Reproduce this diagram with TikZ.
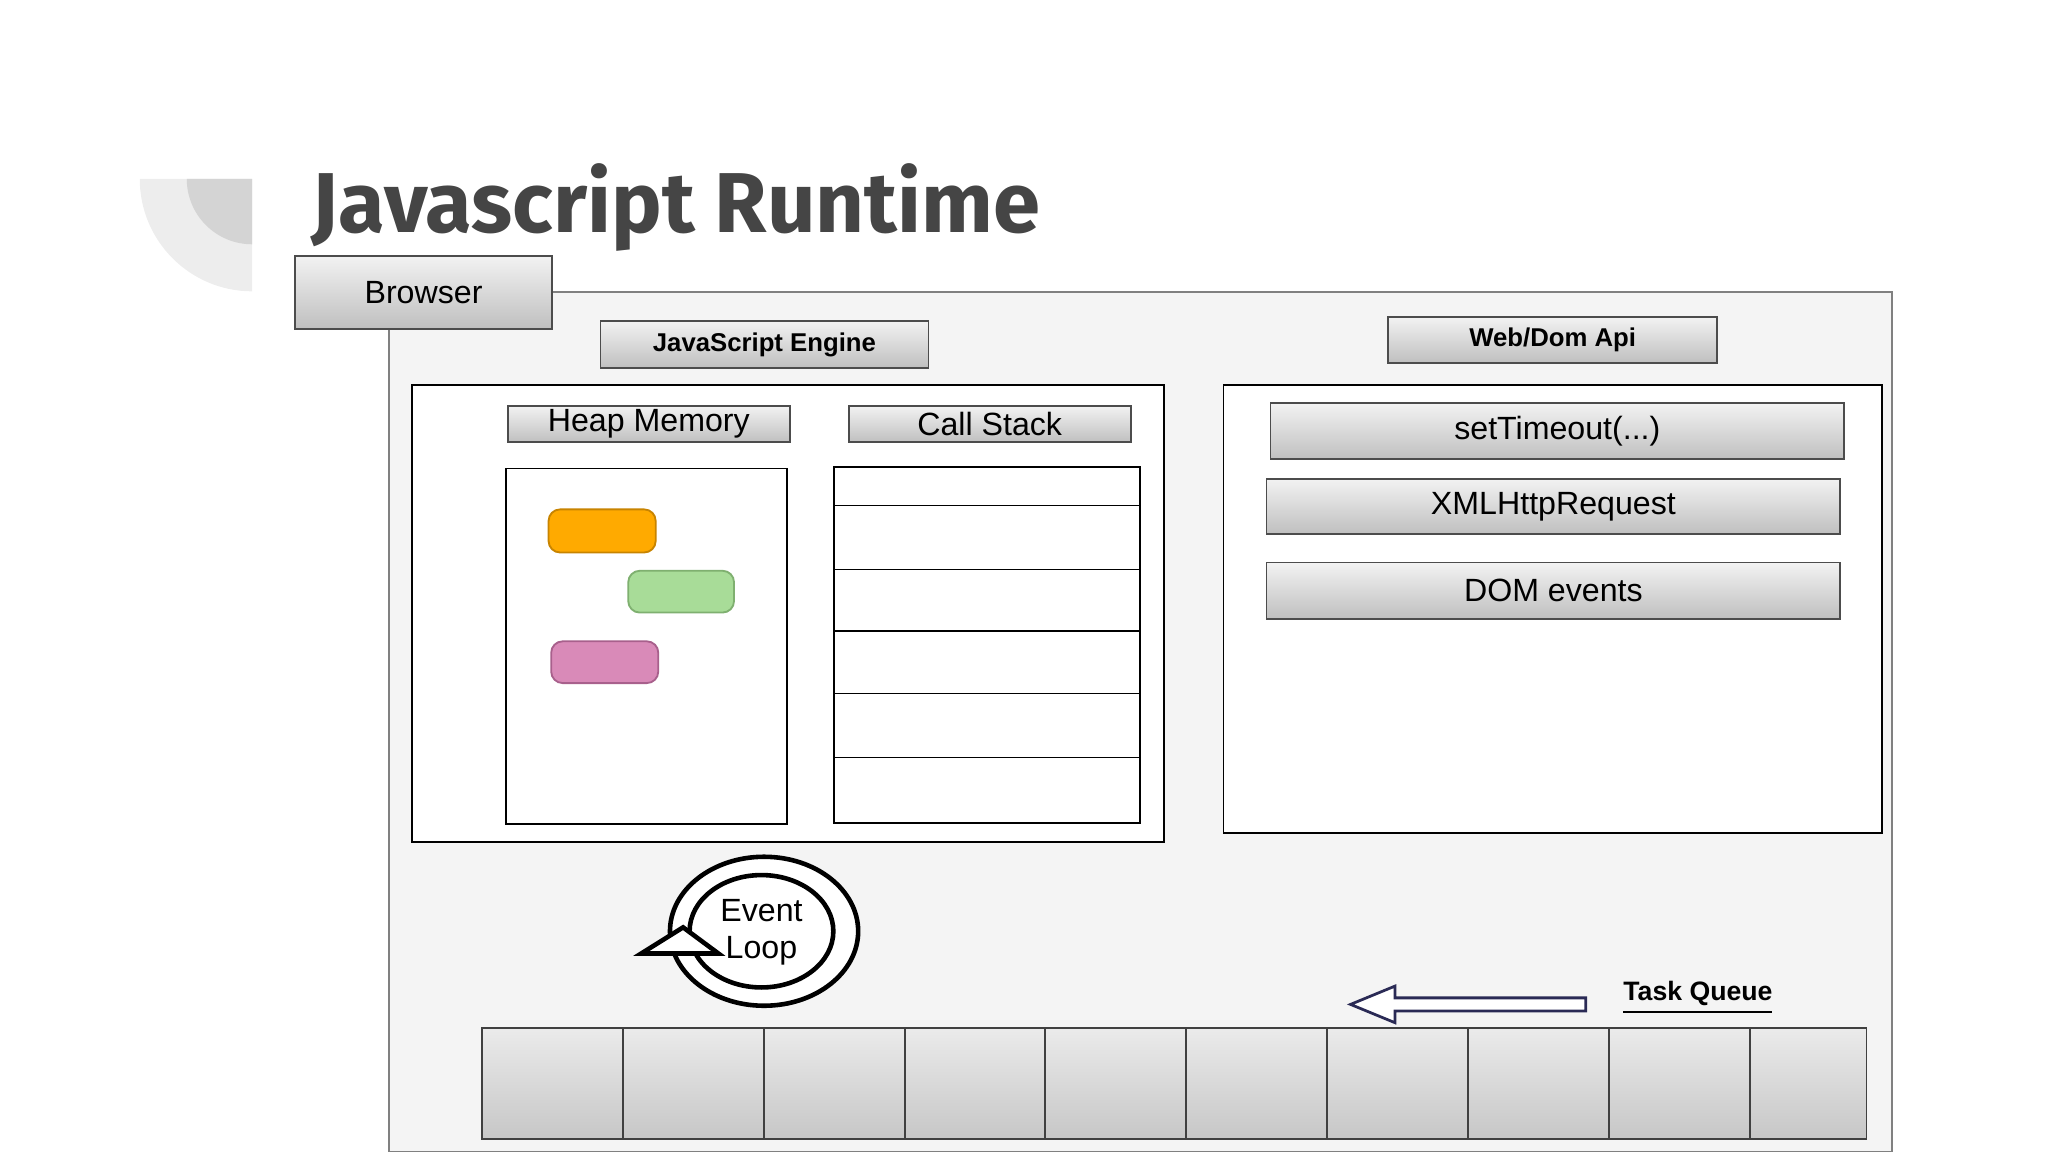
\documentclass[tikz,border=0pt]{standalone}
\usepackage{fontspec}
\setmainfont{Liberation Sans}
\newfontfamily\titlefont{Fira Sans}
\definecolor{frame}{HTML}{F4F4F4}
\definecolor{borange}{HTML}{FFAA00}
\definecolor{dorange}{HTML}{C88400}
\definecolor{bgreen}{HTML}{A8DC98}
\definecolor{dgreen}{HTML}{7FB070}
\definecolor{bpink}{HTML}{D98AB8}
\definecolor{dpink}{HTML}{A8608C}
\definecolor{navy}{HTML}{2A2A55}
\begin{document}
\begin{tikzpicture}[x=0.01cm,y=-0.01cm,
 btn/.style={draw=black!70,top color=black!5,bottom color=black!25,inner sep=0pt},
 lbl/.style={font=\fontsize{7}{8}\selectfont},
 blbl/.style={font=\bfseries\fontsize{5.6}{7}\selectfont},
 cell/.style={draw=black!75,top color=black!8,bottom color=black!22},
 blob/.style n args={2}{rounded corners=2.5pt,draw=#2,fill=#1}]
\useasboundingbox (0,0) rectangle (1568,882);
% decoration
\fill[black!7] (193,137) -- (107,137) arc[start angle=180,end angle=270,radius=0.86cm] -- cycle;
\fill[black!17] (193,137) -- (143,137) arc[start angle=180,end angle=270,radius=0.5cm] -- cycle;
\node[anchor=base west,inner sep=0pt,text=black!73,font=\titlefont\bfseries\fontsize{18.5}{22}\selectfont] (title) at (238,178) {Javascript Runtime};
% outer frame
\node[draw=black!50,fill=frame,minimum width=11.5cm,minimum height=6.58cm,anchor=north west,inner sep=0pt] (browserframe) at (297,223) {};
\node[btn,minimum width=1.97cm,minimum height=0.56cm,anchor=north west,lbl] (browser) at (225,195) {Browser};
\node[btn,minimum width=2.51cm,minimum height=0.36cm,anchor=north west,blbl] (jse) at (459,245) {JavaScript Engine};
\node[btn,minimum width=2.52cm,minimum height=0.35cm,anchor=north west,blbl] (web) at (1062,242) {Web/Dom Api};
% engine box
\node[draw=black,fill=white,minimum width=5.75cm,minimum height=3.5cm,anchor=north west,inner sep=0pt] (engine) at (315,294) {};
\node[draw=black,fill=white,minimum width=5.04cm,minimum height=3.43cm,anchor=north west,inner sep=0pt] (webbox) at (936,294) {};
\node[btn,minimum width=2.16cm,minimum height=0.28cm,anchor=north west,lbl] (heapl) at (388,310) {Heap Memory};
\node[btn,minimum width=2.16cm,minimum height=0.28cm,anchor=north west,lbl] (stackl) at (649,310) {Call Stack};
\node[draw=black,fill=white,minimum width=2.15cm,minimum height=2.72cm,anchor=north west,inner sep=0pt] (heap) at (387,358) {};
\node[draw=black,fill=white,minimum width=2.34cm,minimum height=2.72cm,anchor=north west,inner sep=0pt] (stack) at (638,357) {};
\foreach \yy in {387,436,483,531,580} \draw[black] (638,\yy) -- (872,\yy);
\draw[blob={borange}{dorange}] (420,390) rectangle (502,423);
\draw[blob={bgreen}{dgreen}] (481,437) rectangle (562,469);
\draw[blob={bpink}{dpink}] (422,491) rectangle (504,523);
\node[btn,minimum width=4.39cm,minimum height=0.43cm,anchor=north west,lbl] (st) at (972,308) {setTimeout(...)};
\node[btn,minimum width=4.39cm,minimum height=0.42cm,anchor=north west,lbl] (xhr) at (969,366) {XMLHttpRequest};
\node[btn,minimum width=4.39cm,minimum height=0.43cm,anchor=north west,lbl] (dom) at (969,430) {DOM events};
% event loop
\draw[line width=1pt,fill=white] (585,713) ellipse[x radius=0.72cm,y radius=0.57cm];
\draw[line width=1pt,fill=white] (583,713) ellipse[x radius=0.55cm,y radius=0.43cm];
\draw[line width=1pt,fill=white,line join=miter] (491,730) -- (523,710) -- (550,730) -- cycle;
\node[align=center,font=\fontsize{7}{8}\selectfont] (ev) at (583,714) {Event\\Loop};
% task queue
\foreach \a/\b in {369/477,477/585,585/693,693/800,800/908,908/1016,1016/1124,1124/1232,1232/1340,1340/1429}
  \draw[cell] (\a,787) rectangle (\b,872);
\draw[navy,fill=white,line width=0.6pt] (1214,764) -- (1068,764) -- (1068,755) -- (1034,769) -- (1068,783) -- (1068,774) -- (1214,774) -- cycle;
\node[font=\bfseries\fontsize{5.8}{7}\selectfont] (tq) at (1300,764) {\underline{Task Queue}};
\end{tikzpicture}
\end{document}
